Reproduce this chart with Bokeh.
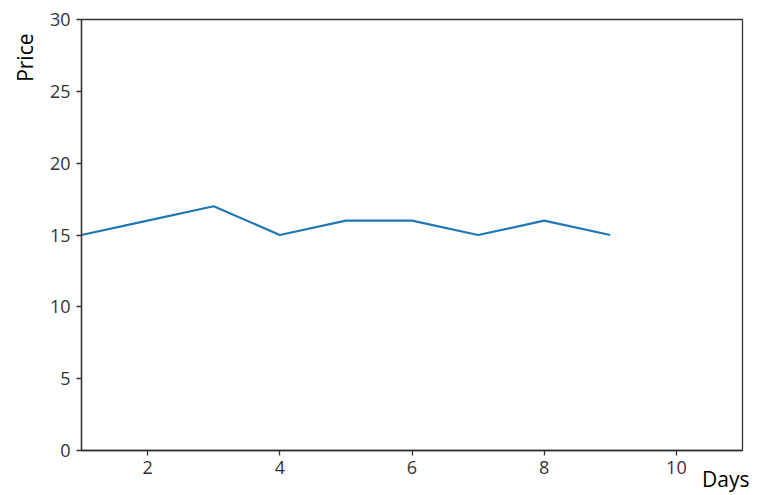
from bokeh.plotting import figure
from bokeh.models import Range1d, FixedTicker, Title
from bokeh.embed import file_html
from bokeh.resources import INLINE

days = [1, 2, 3, 4, 5, 6, 7, 8, 9]
prices = [15, 16, 17, 15, 16, 16, 15, 16, 15]
x_ticks = [2, 4, 6, 8, 10]
y_ticks = [0, 5, 10, 15, 20, 25, 30]

p = figure(width=760, height=495, output_backend="svg", toolbar_location=None,
           x_range=Range1d(1, 11), y_range=Range1d(0, 30),
           min_border_left=78, min_border_right=18, min_border_top=19, min_border_bottom=45)
p.line(days, prices, line_color="#1f77b4", line_width=2.2)

p.grid.visible = False
p.outline_line_color = "#333333"
p.outline_line_width = 1.3
for ax in (p.xaxis[0], p.yaxis[0]):
    ax.axis_line_color = "#333333"
    ax.axis_line_width = 1.3
    ax.major_tick_line_color = "#333333"
    ax.major_tick_line_width = 1.3
    ax.major_tick_out = 5
    ax.major_tick_in = 0
    ax.minor_tick_line_color = None
    ax.major_label_text_font = "Open Sans"
    ax.major_label_text_font_size = "18px"
    ax.major_label_text_color = "#333333"
p.xaxis.ticker = FixedTicker(ticks=x_ticks)
p.yaxis.ticker = FixedTicker(ticks=y_ticks)
p.xaxis.major_label_standoff = 5
p.yaxis.major_label_standoff = 6

p.add_layout(Title(text="Price", align="right", offset=14, standoff=16,
                   text_font="Open Sans", text_font_size="21px", text_color="black",
                   text_font_style="normal"), "left")
p.add_layout(Title(text="Days", align="right", offset=-7, standoff=-32,
                   text_font="Open Sans", text_font_size="21px", text_color="black",
                   text_font_style="normal"), "below")

open("out.html", "w").write(file_html(p, INLINE))
